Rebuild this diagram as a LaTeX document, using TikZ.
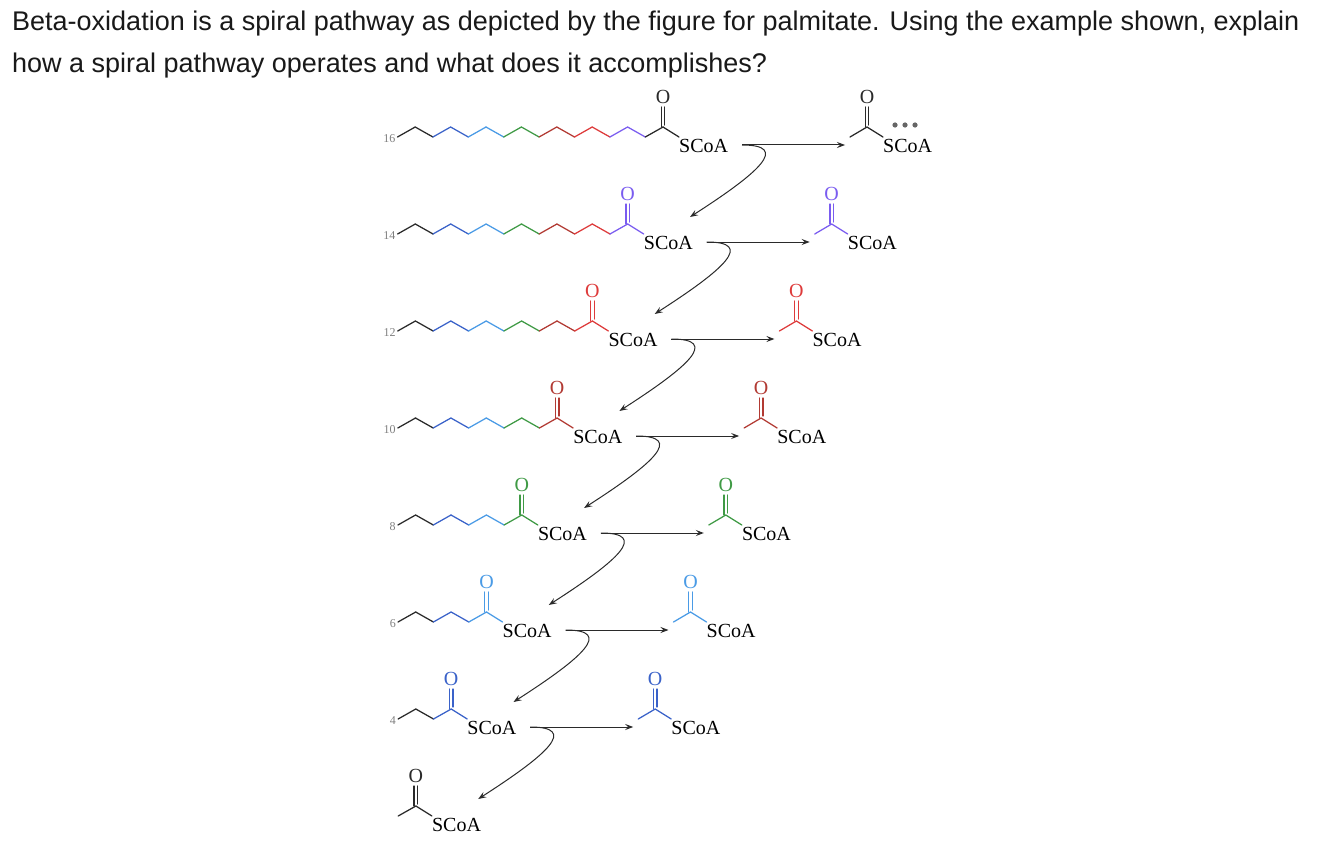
\documentclass[tikz,border=0pt]{standalone}
\usepackage{fontspec}
\setmainfont{Liberation Serif}
\newfontfamily\titlefont{Liberation Sans}
\usetikzlibrary{arrows.meta}
\definecolor{K}{HTML}{2A2A2A}
\definecolor{B}{HTML}{3A62C9}
\definecolor{L}{HTML}{4A9BE6}
\definecolor{G}{HTML}{3F9A45}
\definecolor{D}{HTML}{B23A33}
\definecolor{R}{HTML}{DE3B3B}
\definecolor{P}{HTML}{7A5CF0}
\definecolor{numgray}{HTML}{808080}
\tikzset{
  bond/.style={line width=1.25pt, line cap=round, line join=round},
  lbl/.style={inner sep=0pt, font=\fontsize{20}{20}\selectfont},
  num/.style={inner sep=0pt, font=\fontsize{12}{12}\selectfont, text=numgray},
  rx/.style={line width=1pt, -{Stealth[length=8pt,width=6pt,inset=3pt]}, draw=K},
  ttl/.style={inner sep=0pt, anchor=base west, font=\titlefont\fontsize{27}{27}\selectfont, text=black!90}
}
% #1 row index, #2 carbon number, #3 segment colours, #4 carbonyl colour
\newcommand\myrow[4]{%
  \pgfmathsetmacro\yS{145+97*#1}
  \pgfmathsetmacro\cx{663-35.3*#1}
  \pgfmathsetmacro\nseg{int(15-2*#1)}
  \pgfmathsetmacro\xz{\cx-17.7*\nseg}
  \foreach \c [count=\j] in {#3}{%
    \pgfmathsetmacro\xa{\xz+17.7*(\j-1)}
    \pgfmathsetmacro\xb{\xz+17.7*\j}
    \pgfmathsetmacro\ya{\yS-8-10*mod(\nseg-\j+2,2)}
    \pgfmathsetmacro\yb{\yS-8-10*mod(\nseg-\j+1,2)}
    \draw[bond, draw=\c] (\xa,\ya) -- (\xb,\yb);
  }
  \node[num, anchor=east] (n#1) at (\xz-2,\yS-6) {#2};
  \draw[bond, draw=#4] (\cx-1.8,\yS-18) -- (\cx-1.8,\yS-38) (\cx+1.8,\yS-20) -- (\cx+1.8,\yS-38);
  \draw[bond, draw=#4] (\cx,\yS-18) -- (\cx+16,\yS-8);
  \node[lbl, text=#4] (o#1) at (\cx,\yS-48) {O};
  \node[lbl, anchor=west] (s#1) at (\cx+16,\yS+1) {SCoA};
}
\newcommand\myprod[2]{%
  \pgfmathsetmacro\yS{145+97*#1}
  \pgfmathsetmacro\cx{663-35.3*#1}
  \pgfmathsetmacro\pcx{\cx+204}
  \draw[bond, draw=#2] (\pcx-17,\yS-8) -- (\pcx,\yS-18) -- (\pcx+16,\yS-8);
  \draw[bond, draw=#2] (\pcx-1.8,\yS-18) -- (\pcx-1.8,\yS-38) (\pcx+1.8,\yS-20) -- (\pcx+1.8,\yS-38);
  \node[lbl, text=#2] (po#1) at (\pcx,\yS-48) {O};
  \node[lbl, anchor=west] (ps#1) at (\pcx+16,\yS+1) {SCoA};
  \coordinate (a#1) at (\cx+79,\yS);
  \coordinate (b#1) at (\pcx-22,\yS);
  \coordinate (e#1) at (\cx+27,\yS+72);
  \draw[rx] (a#1) -- (b#1);
  \draw[rx] (a#1) .. controls +(48,0) and +(70,-45) .. (e#1);
}
\begin{document}
\begin{tikzpicture}[x=1pt,y=-1pt]
\useasboundingbox (0,0) rectangle (1320,864);
\fill[white] (0,0) rectangle (1320,864);
\node[ttl] (t1) at (12,31) {Beta-oxidation is a spiral pathway as depicted by the figure for palmitate. Using the example shown, explain};
\node[ttl] (t2) at (12,73) {how a spiral pathway operates and what does it accomplishes?};
\myrow{0}{16}{K,K,B,B,L,L,G,G,D,D,R,R,P,P,K}{K}
\myrow{1}{14}{K,K,B,B,L,L,G,G,D,D,R,R,P}{P}
\myrow{2}{12}{K,K,B,B,L,L,G,G,D,D,R}{R}
\myrow{3}{10}{K,K,B,B,L,L,G,G,D}{D}
\myrow{4}{8}{K,K,B,B,L,L,G}{G}
\myrow{5}{6}{K,K,B,B,L}{L}
\myrow{6}{4}{K,K,B}{B}
\myrow{7}{}{K}{K}
\myprod{0}{K}
\myprod{1}{P}
\myprod{2}{R}
\myprod{3}{D}
\myprod{4}{G}
\myprod{5}{L}
\myprod{6}{B}
\foreach \d in {0,1,2}{\fill[black!60] (895+10*\d,125) circle (2.6);}
\end{tikzpicture}
\end{document}
